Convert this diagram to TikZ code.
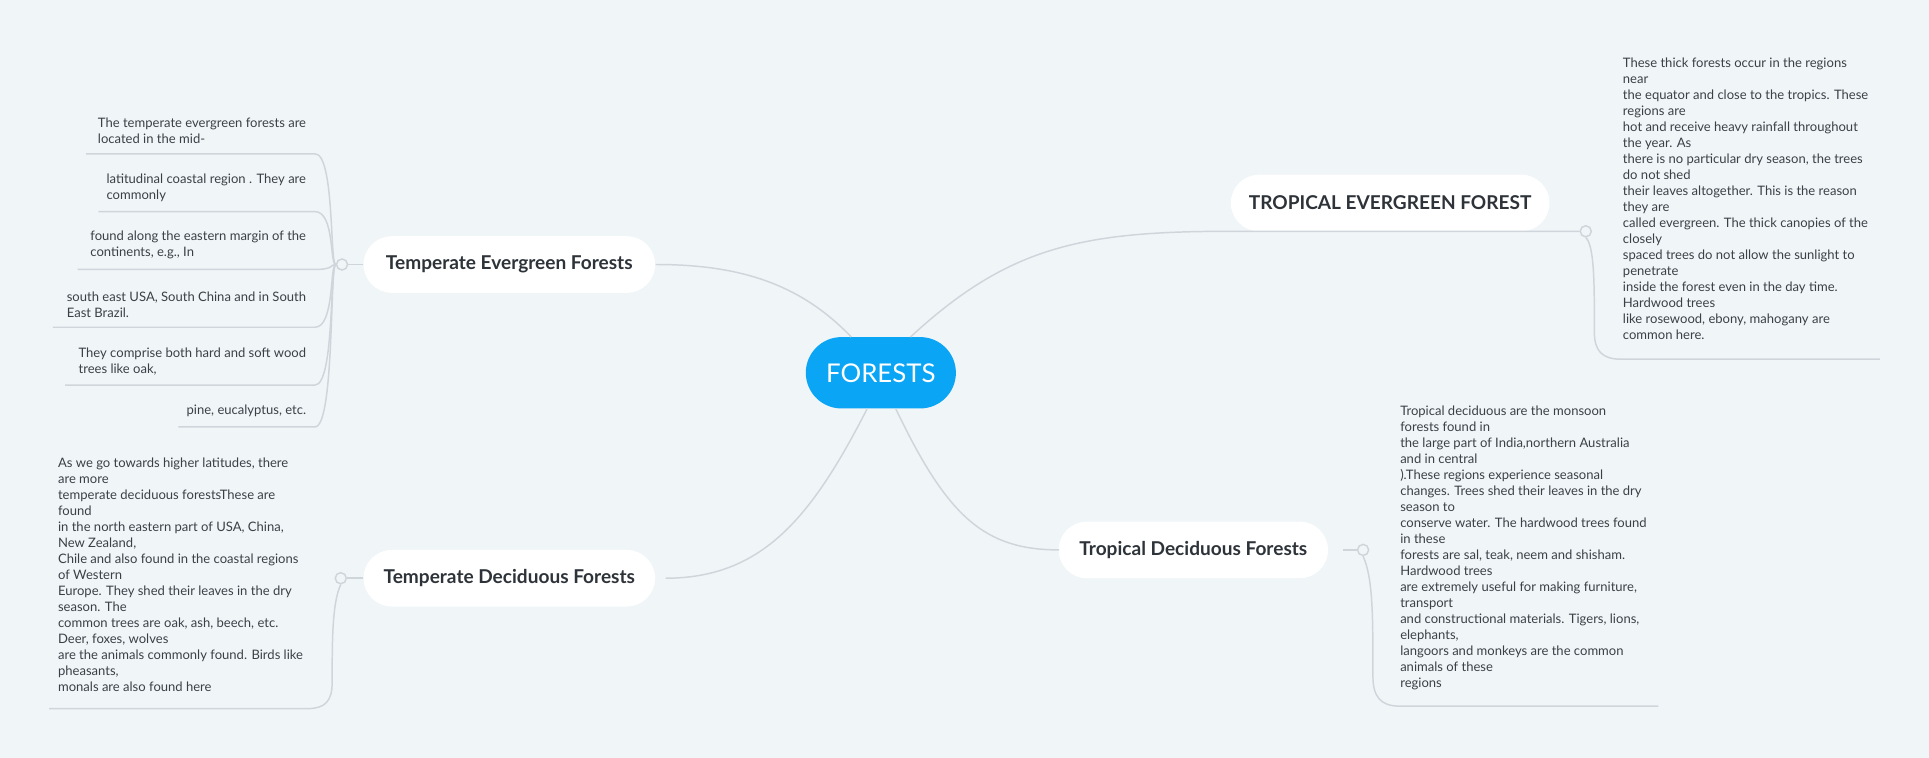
\documentclass[tikz,border=0pt]{standalone}
\usepackage{fontspec}
\setmainfont{Lato}
\definecolor{bg}{HTML}{F0F5F8}
\definecolor{ln}{HTML}{CFD5DA}
\definecolor{tx}{HTML}{3A4046}
\definecolor{hd}{HTML}{2D3339}
\definecolor{ctr}{HTML}{0AA5F5}
\begin{document}
\begin{tikzpicture}[x=1pt,y=-1pt,
  pill/.style={fill=white,rounded corners=23pt,minimum height=46pt,inner xsep=14pt,font=\fontsize{15.5}{18}\selectfont\bfseries,text=hd},
  leaf/.style={font=\fontsize{10.6}{13}\selectfont,text=tx,inner sep=0pt},
  con/.style={draw=ln,line width=1.2pt},
  knob/.style={circle,draw=ln,line width=1.2pt,fill=bg,minimum size=9pt,inner sep=0pt}]
\fill[bg] (0,0) rectangle (1568,616);
\useasboundingbox (0,0) rectangle (1568,616);
% center
\node[fill=ctr,rounded corners=29pt,minimum width=122pt,minimum height=58pt,text=white,font=\fontsize{21}{24}\selectfont] (c) at (716,303) {FORESTS};
% branches
\node[pill,minimum width=259pt] (te) at (1130,165) {TROPICAL EVERGREEN FOREST};
\node[pill,minimum width=237pt] (tev) at (414,215) {Temperate Evergreen Forests};
\node[pill,minimum width=237pt] (tde) at (414,470) {Temperate Deciduous Forests};
\node[pill,minimum width=219pt] (tdf) at (970,447) {Tropical Deciduous Forests};
% center connectors
\draw[con] (740,274) .. controls (820,200) and (880,188) .. (1001,188) -- (1284,188);
\draw[con] (692,274) .. controls (650,230) and (600,215) .. (533,215);
\draw[con] (705,332) .. controls (660,420) and (620,470) .. (541,470);
\draw[con] (728,332) .. controls (770,420) and (800,447) .. (861,447);
% knobs
\node[knob] (k1) at (1289,188) {};
\node[knob] (k2) at (278,215) {};
\node[knob] (k3) at (277,470) {};
\node[knob] (k4) at (1108,447) {};
\draw[con] (tev.west) -- (k2.east);
\draw[con] (tde.west) -- (k3.east);
\draw[con] (1092,447) -- (k4.west);
% TEF leaf
\coordinate (e1) at (1528,292);
\draw[con] (k1.south) .. controls (1296,200) and (1296,230) .. (1296,270) .. controls (1296,285) and (1302,292) .. (1318,292) -- (e1);
\node[leaf,anchor=north west,align=left] (t1) at (1319,47) {These thick forests occur in the regions\\near\\the equator and close to the tropics. These\\regions are\\hot and receive heavy rainfall throughout\\the year. As\\there is no particular dry season, the trees\\do not shed\\their leaves altogether. This is the reason\\they are\\called evergreen. The thick canopies of the\\closely\\spaced trees do not allow the sunlight to\\penetrate\\inside the forest even in the day time.\\Hardwood trees\\like rosewood, ebony, mahogany are\\common here.};
% TDF leaf
\coordinate (e4) at (1348,574);
\draw[con] (k4.south) .. controls (1116,470) and (1116,500) .. (1116,550) .. controls (1116,566) and (1122,574) .. (1138,574) -- (e4);
\node[leaf,anchor=north west,align=left] (t4) at (1138,330) {Tropical deciduous are the monsoon\\forests found in\\the large part of India,northern Australia\\and in central\\).These regions experience seasonal\\changes. Trees shed their leaves in the dry\\season to\\conserve water. The hardwood trees found\\in these\\forests are sal, teak, neem and shisham.\\Hardwood trees\\are extremely useful for making furniture,\\transport\\and constructional materials. Tigers, lions,\\elephants,\\langoors and monkeys are the common\\animals of these\\regions};
% TDE leaf
\coordinate (e3) at (40,576);
\draw[con] (k3.south) .. controls (270,490) and (270,520) .. (270,555) .. controls (270,570) and (264,576) .. (250,576) -- (e3);
\node[leaf,anchor=north west,align=left] (t3) at (47,372) {As we go towards higher latitudes, there\\are more\\temperate deciduous forestsThese are\\found\\in the north eastern part of USA, China,\\New Zealand,\\Chile and also found in the coastal regions\\of Western\\Europe. They shed their leaves in the dry\\season. The\\common trees are oak, ash, beech, etc.\\Deer, foxes, wolves\\are the animals commonly found. Birds like\\pheasants,\\monals are also found here};
% TEV leaves
\foreach \y/\x/\n in {125/70/a,172/80/b,219/63/c,266/43/d,313/53/e,347/145/f}{
  \coordinate (l\n) at (\x,\y);
  \draw[con] (k2.west) .. controls (268,215) and (272,\y) .. (256,\y) -- (l\n);
}
\node[leaf,anchor=south east,align=left] (a1) at (249,117) {The temperate evergreen forests are\\located in the mid-};
\node[leaf,anchor=south east,align=left] (a2) at (249,164) {latitudinal coastal region . They are\\commonly};
\node[leaf,anchor=south east,align=left] (a3) at (249,211) {found along the eastern margin of the\\continents, e.g., In};
\node[leaf,anchor=south east,align=left] (a4) at (249,258) {south east USA, South China and in South\\East Brazil.};
\node[leaf,anchor=south east,align=left] (a5) at (249,305) {They comprise both hard and soft wood\\trees like oak,};
\node[leaf,anchor=south east,align=left] (a6) at (249,339) {pine, eucalyptus, etc.};
\end{tikzpicture}
\end{document}
